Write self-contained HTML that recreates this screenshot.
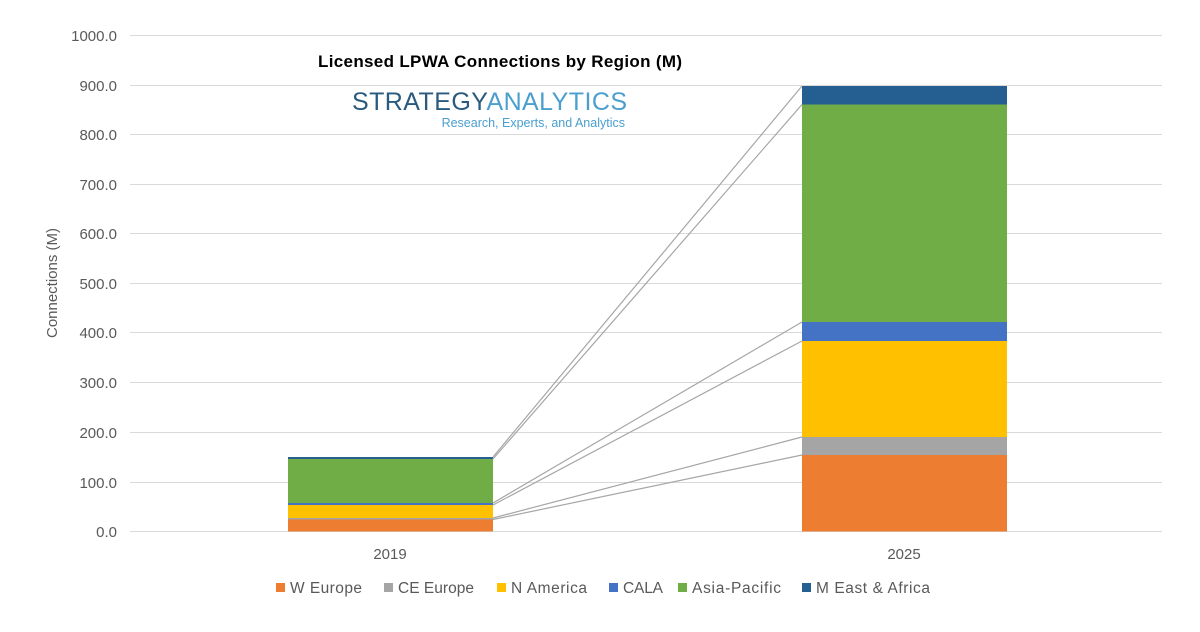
<!DOCTYPE html>
<html><head><meta charset="utf-8"><style>
body{margin:0;background:#fff;}
svg text{font-family:"Liberation Sans",sans-serif;}
</style></head><body>
<svg width="1200" height="627" viewBox="0 0 1200 627" xmlns="http://www.w3.org/2000/svg">
<rect width="1200" height="627" fill="#fff"/>
<g stroke="#d9d9d9" stroke-width="1">
<line x1="130" x2="1162" y1="35.5" y2="35.5"/>
<line x1="130" x2="1162" y1="85.5" y2="85.5"/>
<line x1="130" x2="1162" y1="134.5" y2="134.5"/>
<line x1="130" x2="1162" y1="184.5" y2="184.5"/>
<line x1="130" x2="1162" y1="233.5" y2="233.5"/>
<line x1="130" x2="1162" y1="283.5" y2="283.5"/>
<line x1="130" x2="1162" y1="332.5" y2="332.5"/>
<line x1="130" x2="1162" y1="382.5" y2="382.5"/>
<line x1="130" x2="1162" y1="432.5" y2="432.5"/>
<line x1="130" x2="1162" y1="482.5" y2="482.5"/>
<line x1="130" x2="1162" y1="531.5" y2="531.5"/>
</g>
<g font-size="15" fill="#595959" text-anchor="end">
<text x="117" y="41">1000.0</text><text x="117" y="91">900.0</text><text x="117" y="140">800.0</text>
<text x="117" y="190">700.0</text><text x="117" y="239">600.0</text><text x="117" y="289">500.0</text>
<text x="117" y="338">400.0</text><text x="117" y="388">300.0</text><text x="117" y="438">200.0</text>
<text x="117" y="488">100.0</text><text x="117" y="537">0.0</text>
</g>
<text transform="translate(57,283) rotate(-90)" font-size="15" fill="#595959" text-anchor="middle">Connections (M)</text>
<!-- 2019 -->
<rect x="288" y="519.5" width="205" height="12" fill="#ed7d31"/>
<rect x="288" y="518" width="205" height="1.5" fill="#a5a5a5"/>
<rect x="288" y="505" width="205" height="13" fill="#ffc000"/>
<rect x="288" y="503" width="205" height="2" fill="#4472c4"/>
<rect x="288" y="459" width="205" height="44" fill="#70ad47"/>
<rect x="288" y="457" width="205" height="2" fill="#255e91"/>
<!-- 2025 -->
<rect x="802" y="455" width="205" height="76.5" fill="#ed7d31"/>
<rect x="802" y="437" width="205" height="18" fill="#a5a5a5"/>
<rect x="802" y="341" width="205" height="96" fill="#ffc000"/>
<rect x="802" y="322" width="205" height="19" fill="#4472c4"/>
<rect x="802" y="104.5" width="205" height="217.5" fill="#70ad47"/>
<rect x="802" y="86" width="205" height="18.5" fill="#255e91"/>
<g stroke="#a6a6a6" stroke-width="1.2">
<line x1="493" y1="457" x2="802" y2="86"/>
<line x1="493" y1="459" x2="802" y2="104.5"/>
<line x1="493" y1="503" x2="802" y2="322"/>
<line x1="493" y1="505" x2="802" y2="341"/>
<line x1="493" y1="518" x2="802" y2="437"/>
<line x1="493" y1="519.5" x2="802" y2="455"/>
</g>
<g font-size="15" fill="#595959" text-anchor="middle">
<text x="390" y="559">2019</text><text x="904" y="559">2025</text>
</g>
<text x="318" y="67" font-size="17" font-weight="bold" fill="#000" textLength="364">Licensed LPWA Connections by Region (M)</text>
<text x="352" y="110" font-size="25" fill="#2a5b7e" textLength="275">STRATEGY<tspan fill="#4a9fcf">ANALYTICS</tspan></text>
<text x="625" y="127" font-size="12.5" fill="#4a9fcf" text-anchor="end">Research, Experts, and Analytics</text>
<g font-size="15.5" fill="#595959">
<rect x="276" y="583" width="9" height="9" fill="#ed7d31"/><text x="290" y="593" textLength="72">W Europe</text>
<rect x="384" y="583" width="9" height="9" fill="#a5a5a5"/><text x="398" y="593" textLength="76">CE Europe</text>
<rect x="497" y="583" width="9" height="9" fill="#ffc000"/><text x="511" y="593" textLength="76">N America</text>
<rect x="609" y="583" width="9" height="9" fill="#4472c4"/><text x="623" y="593" textLength="40">CALA</text>
<rect x="678" y="583" width="9" height="9" fill="#70ad47"/><text x="692" y="593" textLength="89">Asia-Pacific</text>
<rect x="802" y="583" width="9" height="9" fill="#255e91"/><text x="816" y="593" textLength="114">M East &amp; Africa</text>
</g>
</svg>
</body></html>
